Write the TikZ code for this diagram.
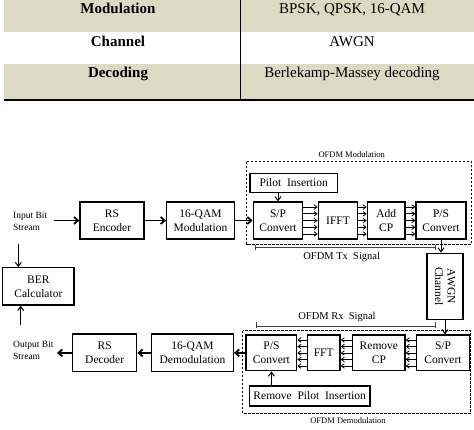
\documentclass[tikz,border=0pt]{standalone}
\usepackage{fontspec}
\setmainfont{Liberation Serif}
\usetikzlibrary{arrows.meta,calc}
\definecolor{tabtan}{RGB}{221,217,196}
\begin{document}
\begin{tikzpicture}[x=1pt,y=-1pt,
 blk/.style={draw, line width=1.3pt, inner sep=0pt, align=center, font=\fontsize{11.5}{14}\selectfont},
 arr/.style={line width=1.8pt, -{Straight Barb[length=4pt,width=7pt]}},
 tarr/.style={line width=1pt, -{Straight Barb[length=4pt,width=6pt]}},
 marr/.style={line width=0.8pt, -{Straight Barb[length=3pt,width=4.5pt]}},
 lbl/.style={inner sep=0pt, align=left, font=\fontsize{9.5}{12}\selectfont},
 sig/.style={inner sep=0pt, font=\fontsize{10.5}{12}\selectfont},
 small/.style={inner sep=0pt, font=\fontsize{8.5}{10}\selectfont},
 thead/.style={inner sep=0pt, anchor=base, font=\fontsize{15}{18}\selectfont\bfseries},
 tcell/.style={inner sep=0pt, anchor=base, font=\fontsize{15}{18}\selectfont},
 dbox/.style={line width=0.8pt, dash pattern=on 2.5pt off 1.5pt},
 brk/.style={line width=0.8pt, black!75}
]
\useasboundingbox (0,0) rectangle (474,429);
% table
\fill[tabtan] (4,0) rectangle (474,32);
\fill[tabtan] (4,64) rectangle (474,98.5);
\draw[line width=2pt] (4,99.5) -- (474,99.5);
\draw[line width=1pt] (240,0) -- (240,98.5);
\node[thead] (h1) at (118,13.3) {Modulation};
\node[tcell] (v1) at (352,13.3) {BPSK, QPSK, 16-QAM};
\node[thead] (h2) at (118,46.5) {Channel};
\node[tcell] (v2) at (352,46.5) {AWGN};
\node[thead] (h3) at (118,77.5) {Decoding};
\node[tcell] (v3) at (352,77.5) {Berlekamp-Massey decoding};

% dashed groups
\draw[dbox] (246.7,161.7) rectangle (471.7,244);
\node[small] (lmod) at (351.7,155) {OFDM Modulation};
\draw[dbox] (242.7,330.7) rectangle (470.7,413.3);
\node[small] (ldem) at (348,420.5) {OFDM Demodulation};

% Tx chain
\node[lbl, anchor=west] (inp) at (13,221) {Input Bit\\Stream};
\node[blk, minimum width=64pt, minimum height=37pt] (enc) at (112,220.5) {RS\\Encoder};
\node[blk, minimum width=67.6pt, minimum height=37pt] (mod) at (200.5,220.5) {16-QAM\\Modulation};
\node[blk, minimum width=49.4pt, minimum height=37pt] (sptx) at (278,220.5) {S/P\\Convert};
\node[blk, minimum width=39.4pt, minimum height=37pt] (ifft) at (338,220.5) {IFFT};
\node[blk, minimum width=37.7pt, minimum height=37pt] (addcp) at (386.2,220.5) {Add\\CP};
\node[blk, minimum width=50pt, minimum height=37pt] (pstx) at (441,220.5) {P/S\\Convert};
\node[blk, minimum width=87.3pt, minimum height=19pt] (pilot) at (293.7,182.8) {Pilot\ \ Insertion};

\coordinate (inpa) at (54,220.5);
\draw[arr] (inpa) -- (enc.west);
\draw[arr] (enc) -- (mod);
\draw[arr] (mod) -- (sptx);
\draw[tarr] (pilot.south -| sptx.north) -- (sptx.north);
\foreach \a/\b in {sptx/ifft, ifft/addcp, addcp/pstx}{
  \foreach \yy in {207,213.8,220.5,227.2,234}{
    \path (0,\yy) coordinate (yy);
    \draw[marr] (\a.east |- yy) -- (\b.west |- yy);
  }
}

% Tx signal bracket
\draw[brk] (255,244.5) -- (255,250) (255,247.3) -- (435,247.3) (435,244.5) -- (435,250);
\node[sig] (txs) at (341.7,257.3) {OFDM Tx\ \ Signal};

% channel
\node[blk, minimum width=36pt, minimum height=66pt] (awgn) at (445,286.3) {};
\node[rotate=-90, align=center, inner sep=0pt, font=\fontsize{11.5}{12.5}\selectfont] (awgnt) at (awgn.center) {AWGN\\Channel};
\draw[tarr] (pstx.south) -- (pstx.south |- awgn.north);

% Rx chain
\node[blk, minimum width=52.6pt, minimum height=35.7pt] (spr) at (443,352.9) {S/P\\Convert};
\node[blk, minimum width=52.3pt, minimum height=35.7pt] (rcp) at (378.9,352.9) {Remove\\CP};
\node[blk, minimum width=32.7pt, minimum height=35.7pt] (fft) at (323.7,352.9) {FFT};
\node[blk, minimum width=50.7pt, minimum height=35.7pt] (psr) at (271.4,352.9) {P/S\\Convert};
\node[blk, minimum width=120.7pt, minimum height=20pt] (rpilot) at (309.7,396) {Remove\ \ Pilot\ \ Insertion};
\node[blk, minimum width=81.6pt, minimum height=37.7pt] (demod) at (192.5,352.9) {16-QAM\\Demodulation};
\node[blk, minimum width=64pt, minimum height=37.7pt] (dec) at (104.7,352.9) {RS\\Decoder};
\node[lbl, anchor=west] (out) at (13,350) {Output Bit\\Stream};
\node[blk, minimum width=71.3pt, minimum height=37.3pt] (ber) at (38.4,286.4) {BER\\Calculator};

\draw[tarr] (awgn.south) -- (awgn.south |- spr.north);
\foreach \a/\b in {spr/rcp, rcp/fft, fft/psr}{
  \foreach \yy in {340,346.5,353,359.5,366}{
    \path (0,\yy) coordinate (yy);
    \draw[marr] (\a.west |- yy) -- (\b.east |- yy);
  }
}
\draw[arr] (psr.west) -- (demod.east);
\draw[arr] (demod) -- (dec);
\coordinate (outa) at (57,352.9);
\draw[arr] (dec.west) -- (outa);
\draw[tarr] (rpilot.north -| psr.south) -- (psr.south);

% Rx signal bracket
\draw[brk] (256,321.5) -- (256,328) (256,326) -- (435,326) (435,321.5) -- (435,328);
\node[sig] (rxs) at (337,317.3) {OFDM Rx\ \ Signal};

% BER arrows
\coordinate (inpb) at (18.3,244.3);
\coordinate (outt) at (20.7,325);
\draw[tarr] (inpb) -- (inpb |- ber.north);
\draw[tarr] (outt) -- (outt |- ber.south);
\end{tikzpicture}
\end{document}
